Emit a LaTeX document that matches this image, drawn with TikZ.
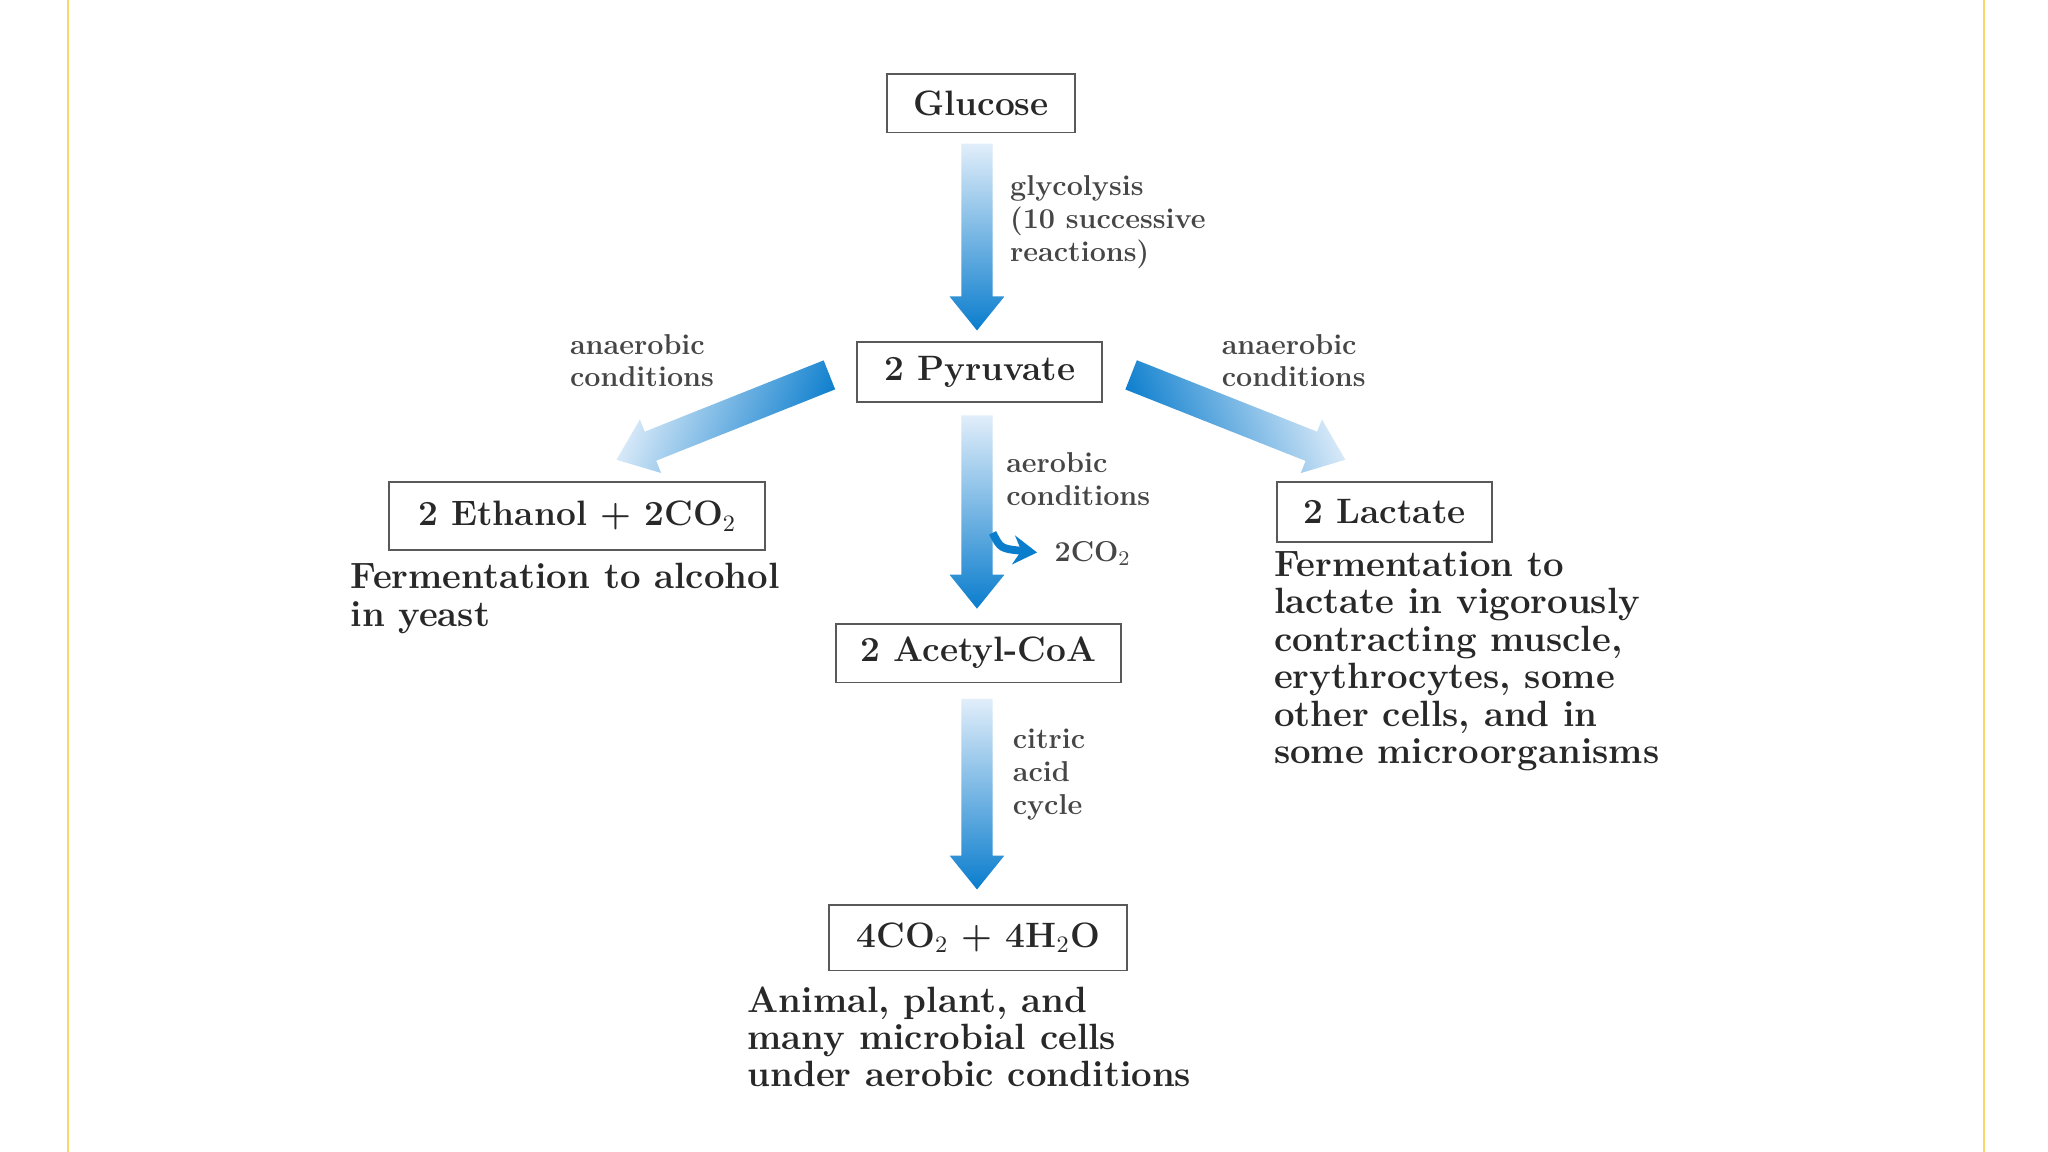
\documentclass[tikz,border=0pt]{standalone}
\usetikzlibrary{arrows.meta}
\definecolor{ablue}{RGB}{10,125,205}
\definecolor{alight}{RGB}{225,238,250}
\definecolor{bord}{RGB}{250,215,110}
\definecolor{txt}{RGB}{40,40,40}
\definecolor{lbl}{RGB}{70,70,70}
\tikzset{
 box/.style={draw=black!65,line width=0.7pt,fill=white,inner sep=0pt,text=txt,font=\bfseries\fontsize{13.5}{16}\selectfont},
 lab/.style={text=lbl,align=left,anchor=west,inner sep=0pt,font=\bfseries\fontsize{11}{12.5}\selectfont},
 desc/.style={text=txt,align=left,anchor=north west,inner sep=0pt,font=\bfseries\fontsize{14}{14.3}\selectfont},
 vshade/.style={top color=alight,bottom color=ablue,draw=none}
}
\newcommand\varrow[3]{% x, y0, tip
 \shade[vshade] (#1-12,#2) -- (#1+12,#2) -- (#1+12,#3-26) -- (#1+21,#3-26) -- (#1,#3) -- (#1-21,#3-26) -- (#1-12,#3-26) -- cycle;}
\begin{document}
\begin{tikzpicture}[x=0.5pt,y=-0.5pt]
\useasboundingbox (0,0) rectangle (1568,882);
\fill[white] (0,0) rectangle (1568,882);
\draw[bord,line width=0.8pt] (52,0) -- (52,882) (1519,0) -- (1519,882);
% boxes
\node[box,minimum width=72pt,minimum height=22.5pt] (glu) at (751,79) {Glucose};
\node[box,minimum width=94pt,minimum height=23pt] (pyr) at (750,285) {2 Pyruvate};
\node[box,minimum width=144pt,minimum height=26pt] (eth) at (442,395) {2 Ethanol + 2CO$_2$};
\node[box,minimum width=82pt,minimum height=23pt] (lac) at (1060,392) {2 Lactate};
\node[box,minimum width=109pt,minimum height=22.5pt] (acc) at (749,500) {2 Acetyl-CoA};
\node[box,minimum width=114pt,minimum height=25pt] (fin) at (749,718) {4CO$_2$ + 4H$_2$O};
% arrows
\varrow{748}{110}{253}
\varrow{748}{318}{466}
\varrow{748}{535}{681}
\shade[top color=ablue,bottom color=alight,shading angle=-111.7] (639.4,298.1) -- (630.6,275.9) -- (493.6,330.5) -- (489.9,321.2) -- (472,352) -- (506.1,362.1) -- (502.4,352.7) -- cycle;
\shade[top color=ablue,bottom color=alight,shading angle=111.6] (861.6,298.2) -- (870.4,275.8) -- (1008.4,330.5) -- (1012.1,321.2) -- (1030,352) -- (995.9,362.2) -- (999.6,352.9) -- cycle;
\coordinate (c1) at (760,408);
\coordinate (c2) at (794,423);
\draw[ablue,line width=3pt,-{Stealth[length=9pt,width=11pt]}] (c1) .. controls (766,420) .. (c2);
% labels
\node[lab] (l1) at (773,170) {glycolysis\\(10 successive\\reactions)};
\node[lab] (l2) at (436,276) {anaerobic\\conditions};
\node[lab] (l3) at (935,276) {anaerobic\\conditions};
\node[lab] (l4) at (770,367) {aerobic\\conditions};
\node[lab] (l5) at (807,424) {2CO$_2$};
\node[lab] (l6) at (775,593) {citric\\acid\\cycle};
% descriptions
\node[desc] (d1) at (268,431) {Fermentation to alcohol\\in yeast};
\node[desc] (d2) at (975,422) {Fermentation to\\lactate in vigorously\\contracting muscle,\\erythrocytes, some\\other cells, and in\\some microorganisms};
\node[desc] (d3) at (572,755) {Animal, plant, and\\many microbial cells\\under aerobic conditions};
\end{tikzpicture}
\end{document}
